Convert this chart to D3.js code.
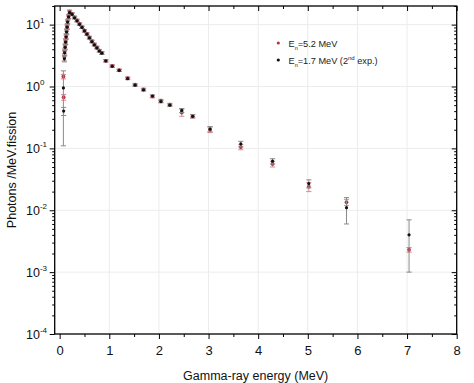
<!DOCTYPE html>
<html>
<head>
<meta charset="utf-8">
<script src="https://cdn.jsdelivr.net/npm/d3@7"></script>
<style>
  html, body { margin: 0; padding: 0; background: #fff; }
  svg { display: block; font-family: "Liberation Sans", Arial, sans-serif; }
</style>
</head>
<body>
<svg id="chart" width="474" height="383"></svg>
<script>
// ---- data ----
const energy = [0.075, 0.08, 0.095, 0.10, 0.11, 0.12, 0.13, 0.14, 0.15, 0.16, 0.18, 0.20,
  0.25, 0.30, 0.35, 0.40, 0.45, 0.50, 0.55, 0.60, 0.65, 0.70, 0.75, 0.80, 0.85,
  0.93, 1.06, 1.20, 1.37, 1.52, 1.69, 1.87, 2.04, 2.22, 2.46, 2.68, 3.03, 3.65, 4.29, 5.02, 5.78, 7.04];

const red52 = [1.45, 0.67, 3.0, 3.7, 4.5, 5.4, 6.5, 7.8, 9.4, 11.3, 13.6, 16.2,
  14.9, 13.1, 11.7, 10.3, 9.1, 8.0, 7.1, 6.2, 5.4, 4.8, 4.3, 3.8, 3.5,
  2.6, 2.15, 1.83, 1.37, 1.07, 0.90, 0.69, 0.59, 0.51, 0.38, 0.33, 0.20, 0.105, 0.056, 0.024, 0.0135, 0.0023];
const red52Err = [0.12, 0.07, 0.4, 0.45, 0.5, 0.55, 0.6, 0.7, 0.8, 0.9, 1.0, 1.1,
  0.8, 0.7, 0.6, 0.5, 0.45, 0.4, 0.35, 0.3, 0.27, 0.24, 0.2, 0.18, 0.17,
  0.12, 0.1, 0.08, 0.06, 0.05, 0.04, 0.035, 0.03, 0.025, 0.05, 0.02, 0.02, 0.01, 0.006, 0.004, 0.0015, 0.0002];

const black17 = [0.95, 0.40, 2.8, 3.5, 4.3, 5.2, 6.3, 7.6, 9.1, 11.0, 13.3, 15.6,
  14.6, 12.9, 11.5, 10.1, 9.0, 7.9, 7.0, 6.1, 5.3, 4.7, 4.2, 3.75, 3.45,
  2.6, 2.12, 1.82, 1.34, 1.05, 0.88, 0.70, 0.57, 0.50, 0.41, 0.33, 0.205, 0.118, 0.062, 0.027, 0.011, 0.0040];
const black17Err = [0.84, 0.06, 0.3, 0.35, 0.4, 0.45, 0.5, 0.6, 0.7, 0.8, 0.9, 1.0,
  0.6, 0.5, 0.45, 0.4, 0.35, 0.3, 0.28, 0.25, 0.22, 0.2, 0.18, 0.16, 0.15,
  0.1, 0.08, 0.07, 0.05, 0.04, 0.035, 0.03, 0.025, 0.02, 0.03, 0.02, 0.02, 0.012, 0.006, 0.004, 0.005, 0.003];

const xTicks = [0, 1, 2, 3, 4, 5, 6, 7, 8];
const yExponents = [1, 0, -1, -2, -3, -4];
const legendLabels = ["5.2 MeV", "1.7 MeV (2"];

// ---- layout ----
const svg = d3.select("#chart");
const pL = 54.7, pR = 456.7, pT = 6, pB = 334;
const x = d3.scaleLinear().domain([-0.1, 8]).range([pL, pR]);
const y = d3.scaleLog().domain([1e-4, 20]).range([pB, pT]);

// grid
const gridColor = "#ececec";
svg.append("g").selectAll("line").data(xTicks.filter(v => v > 0 && v < 8)).join("line")
  .attr("x1", d => x(d)).attr("x2", d => x(d)).attr("y1", pT).attr("y2", pB)
  .attr("stroke", gridColor).attr("stroke-width", 1);
svg.append("g").selectAll("line").data(yExponents.filter(e => e > -4)).join("line")
  .attr("x1", pL).attr("x2", pR).attr("y1", e => y(Math.pow(10, e))).attr("y2", e => y(Math.pow(10, e)))
  .attr("stroke", gridColor).attr("stroke-width", 1);

// minor tick values
const xMinor = xTicks.slice(0, -1).map(v => v + 0.5);
const yMajor = yExponents.map(e => Math.pow(10, e));
const yMinor = [];
for (let e = -4; e <= 1; e++) for (let m = 2; m <= 9; m++) { const v = m * Math.pow(10, e); if (v <= 20) yMinor.push(v); }

function styleAxis(g) {
  g.select(".domain").remove();
  g.selectAll(".tick line").attr("stroke", "#000").attr("stroke-width", 1);
}

// bottom axis (outward)
svg.append("g").attr("transform", `translate(0,${pB})`)
  .call(d3.axisBottom(x).tickValues(xTicks).tickSize(5).tickPadding(7).tickFormat(d3.format("d")))
  .call(styleAxis)
  .call(g => g.selectAll("text").attr("font-size", 13).attr("fill", "#111")
    .attr("font-family", "'Liberation Sans', Arial, sans-serif"));
svg.append("g").attr("transform", `translate(0,${pB})`)
  .call(d3.axisBottom(x).tickValues(xMinor).tickSize(3).tickFormat(""))
  .call(styleAxis);

// top axis (inward)
svg.append("g").attr("transform", `translate(0,${pT})`)
  .call(d3.axisTop(x).tickValues(xTicks).tickSize(-5).tickFormat(""))
  .call(styleAxis);
svg.append("g").attr("transform", `translate(0,${pT})`)
  .call(d3.axisTop(x).tickValues(xMinor).tickSize(-3).tickFormat(""))
  .call(styleAxis);

// left axis (outward)
svg.append("g").attr("transform", `translate(${pL},0)`)
  .call(d3.axisLeft(y).tickValues(yMajor).tickSize(5).tickFormat(""))
  .call(styleAxis);
svg.append("g").attr("transform", `translate(${pL},0)`)
  .call(d3.axisLeft(y).tickValues(yMinor).tickSize(2.5).tickFormat(""))
  .call(styleAxis);

// right axis (inward)
svg.append("g").attr("transform", `translate(${pR},0)`)
  .call(d3.axisRight(y).tickValues(yMajor).tickSize(-5).tickFormat(""))
  .call(styleAxis);
svg.append("g").attr("transform", `translate(${pR},0)`)
  .call(d3.axisRight(y).tickValues(yMinor).tickSize(-2.5).tickFormat(""))
  .call(styleAxis);

// y tick labels 10^n
const yl = svg.append("g").selectAll("text").data(yExponents).join("text")
  .attr("x", 26).attr("y", e => y(Math.pow(10, e)) + 4.5)
  .attr("font-size", 12.5).attr("fill", "#111");
yl.append("tspan").text("10");
yl.append("tspan").attr("dy", -6).attr("font-size", 8).text(e => String(e));

// frame
svg.append("rect").attr("x", pL).attr("y", pT).attr("width", pR - pL).attr("height", pB - pT)
  .attr("fill", "none").attr("stroke", "#000").attr("stroke-width", 1.3);

// axis titles
svg.append("text").attr("x", (pL + pR) / 2).attr("y", 380).attr("text-anchor", "middle")
  .attr("font-size", 12.5).attr("fill", "#111").text("Gamma-ray energy (MeV)");
svg.append("text").attr("transform", `translate(16,${(pT + pB) / 2}) rotate(-90)`)
  .attr("text-anchor", "middle").attr("font-size", 12.5).attr("fill", "#111").text("Photons /MeV.fission");

// series drawing
function drawSeries(vals, errs, barColor, markColor, r) {
  const data = energy.map((e, i) => ({ e, v: vals[i], err: errs[i] }));
  const g = svg.append("g");
  const cap = 2.6;
  data.forEach(d => {
    const lo = Math.max(d.v - d.err, 1.1e-4), hi = d.v + d.err;
    const cx = x(d.e);
    g.append("line").attr("x1", cx).attr("x2", cx).attr("y1", y(lo)).attr("y2", y(hi))
      .attr("stroke", barColor).attr("stroke-width", 1);
    g.append("line").attr("x1", cx - cap).attr("x2", cx + cap).attr("y1", y(lo)).attr("y2", y(lo))
      .attr("stroke", barColor).attr("stroke-width", 1);
    g.append("line").attr("x1", cx - cap).attr("x2", cx + cap).attr("y1", y(hi)).attr("y2", y(hi))
      .attr("stroke", barColor).attr("stroke-width", 1);
  });
  g.selectAll("circle").data(data).join("circle")
    .attr("cx", d => x(d.e)).attr("cy", d => y(d.v)).attr("r", r).attr("fill", markColor);
}
drawSeries(red52, red52Err, "#d88a92", "#b8333f", 1.9);
drawSeries(black17, black17Err, "#8a8a8a", "#111", 1.6);

// legend
const leg = svg.append("g");
const legColors = ["#b8333f", "#111"];
legendLabels.forEach((lab, i) => {
  const cy = 43 + i * 17;
  leg.append("circle").attr("cx", 278.3).attr("cy", cy).attr("r", 1.6).attr("fill", legColors[i]);
  const t = leg.append("text").attr("x", 288.5).attr("y", cy + 3.5).attr("font-size", 9.2).attr("fill", "#222");
  t.append("tspan").text("E");
  t.append("tspan").attr("dy", 3).attr("font-size", 5.5).text("n");
  t.append("tspan").attr("dy", -3).text("=" + lab);
  if (i === 1) {
    t.append("tspan").attr("dy", -3.5).attr("font-size", 6).text("nd");
    t.append("tspan").attr("dy", 3.5).text(" exp.)");
  }
});
</script>
</body>
</html>
